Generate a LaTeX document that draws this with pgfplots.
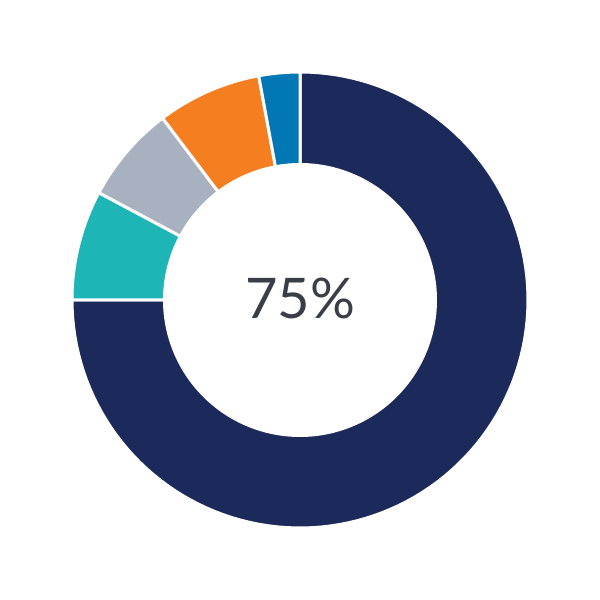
\documentclass[border=0pt]{standalone}
\usepackage{pgfplots}
\pgfplotsset{compat=1.18}
\usepackage{fontspec}
\setmainfont{Lato}
\definecolor{navy}{HTML}{1B2A5A}
\definecolor{teal2}{HTML}{1DB5B6}
\definecolor{gray2}{HTML}{A8B1BF}
\definecolor{orange2}{HTML}{F47E20}
\definecolor{blue2}{HTML}{0277B6}
\definecolor{txt}{HTML}{3A3F47}
\begin{document}
\begin{tikzpicture}
\begin{axis}[
  width=600pt, height=600pt, scale only axis,
  xmin=-300, xmax=300, ymin=-300, ymax=300,
  hide axis, clip=false,
  samples=120, variable=\t,
]
\path (axis cs:-300,-300) rectangle (axis cs:300,300);
% shares (percent): 75, 7.8, 6.9, 7.4, 2.9 -- clockwise from 12 o'clock
\addplot[fill=navy, draw=white, line width=3pt, domain={90-3.6*75}:{90}]
  ({228*cos(t)},{228*sin(t)}) -- (axis cs:0,0) -- cycle;
\addplot[fill=teal2, draw=white, line width=3pt, domain={90-3.6*(75+7.8)}:{90-3.6*75}]
  ({228*cos(t)},{228*sin(t)}) -- (axis cs:0,0) -- cycle;
\addplot[fill=gray2, draw=white, line width=3pt, domain={90-3.6*(75+7.8+6.9)}:{90-3.6*(75+7.8)}]
  ({228*cos(t)},{228*sin(t)}) -- (axis cs:0,0) -- cycle;
\addplot[fill=orange2, draw=white, line width=3pt, domain={90-3.6*(75+7.8+6.9+7.4)}:{90-3.6*(75+7.8+6.9)}]
  ({228*cos(t)},{228*sin(t)}) -- (axis cs:0,0) -- cycle;
\addplot[fill=blue2, draw=white, line width=3pt, domain={90-3.6*(75+7.8+6.9+7.4+2.9)}:{90-3.6*(75+7.8+6.9+7.4)}]
  ({228*cos(t)},{228*sin(t)}) -- (axis cs:0,0) -- cycle;
\addplot[fill=white, draw=none, domain=0:360, samples=180]
  ({137*cos(t)},{137*sin(t)}) -- cycle;
\node[text=txt, font=\fontsize{56pt}{60pt}\selectfont, inner sep=0pt] at (axis cs:0,2) {75\%};
\end{axis}
\end{tikzpicture}
\end{document}
